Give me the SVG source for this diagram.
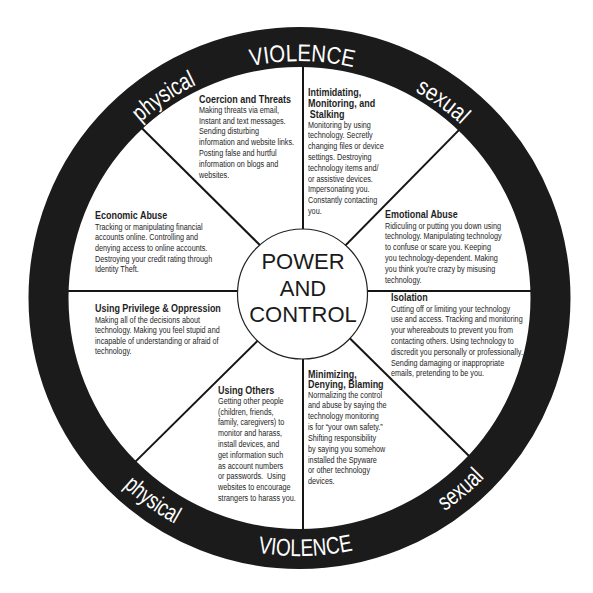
<svg xmlns="http://www.w3.org/2000/svg" width="593" height="593" viewBox="0 0 593 593">
<style>
.spoke{stroke:#151515;stroke-width:2;fill:none}
.t{font-family:"Liberation Sans",Arial,sans-serif;font-size:10.3px;font-weight:bold;fill:#1e1e1e}
.b{font-family:"Liberation Sans",Arial,sans-serif;font-size:9.3px;fill:#1e1e1e}
.ring{font-family:"Liberation Sans",Arial,sans-serif;font-size:24px;fill:#fff}
.ctr{font-family:"Liberation Sans",Arial,sans-serif;font-size:22px;fill:#1a1a1a;text-anchor:middle}
</style>
<defs>
<path id="topArc" d="M 62.5 298 A 237 237 0 0 1 536.5 298"/>
<path id="botArc" d="M 41.5 298 A 258 258 0 0 0 557.5 298"/>
</defs>
<rect width="593" height="593" fill="#fff"/>
<g id="connectors">
<path class="spoke" d="M303 60 V240"/>
<path class="spoke" d="M303 350 V540"/>
<path class="spoke" d="M60 291 H245"/>
<path class="spoke" d="M355 291 H540"/>
<path class="spoke" d="M120 106.5 L280 265"/>
<path class="spoke" d="M480 108.6 L325 266.2"/>
<path class="spoke" d="M330 318.7 L485 471.8"/>
<path class="spoke" d="M280 318.6 L120 476.9"/>
</g>
<g id="ring">
<circle cx="299.5" cy="298" r="251" fill="none" stroke="#1b1b1b" stroke-width="40"/>
<text class="ring" text-anchor="middle"><textPath href="#topArc" startOffset="374.8" textLength="103" lengthAdjust="spacingAndGlyphs">VIOLENCE</textPath></text>
<text class="ring" text-anchor="middle"><textPath href="#topArc" startOffset="231.6" textLength="68" lengthAdjust="spacingAndGlyphs">physical</textPath></text>
<text class="ring" text-anchor="middle"><textPath href="#topArc" startOffset="521.2" textLength="57" lengthAdjust="spacingAndGlyphs">sexual</textPath></text>
<text class="ring" text-anchor="middle"><textPath href="#botArc" startOffset="411.1" textLength="96" lengthAdjust="spacingAndGlyphs">VIOLENCE</textPath></text>
<text class="ring" text-anchor="middle"><textPath href="#botArc" startOffset="243.2" textLength="64" lengthAdjust="spacingAndGlyphs">physical</textPath></text>
<text class="ring" text-anchor="middle"><textPath href="#botArc" startOffset="585.4" textLength="52" lengthAdjust="spacingAndGlyphs">sexual</textPath></text>
</g>
<g id="center">
<circle cx="302.5" cy="294" r="65" fill="#fff" stroke="#222" stroke-width="1.2"/>
<text class="ctr" x="303" y="269">POWER</text>
<text class="ctr" x="303" y="296">AND</text>
<text class="ctr" x="303" y="322">CONTROL</text>
</g>
<g id="coercion">
<text class="t" transform="translate(199,102.6) scale(0.87,1)">Coercion and Threats</text>
<text class="b" transform="translate(199,112.8) scale(0.78,1)"><tspan x="0" y="0">Making threats via email,</tspan><tspan x="0" dy="10.8">Instant and text messages.</tspan><tspan x="0" dy="10.8">Sending disturbing</tspan><tspan x="0" dy="10.8">information and website links.</tspan><tspan x="0" dy="10.8">Posting false and hurtful</tspan><tspan x="0" dy="10.8">information on blogs and</tspan><tspan x="0" dy="10.8">websites.</tspan></text>
</g>
<g id="intimidating">
<text class="t" transform="translate(308,96) scale(0.87,1)"><tspan x="0" y="0">Intimidating,</tspan><tspan x="0" dy="11">Monitoring, and</tspan><tspan x="2" dy="10.6">Stalking</tspan></text>
<text class="b" transform="translate(308,127.6) scale(0.78,1)"><tspan x="0" y="0">Monitoring by using</tspan><tspan x="0" dy="10.8">technology. Secretly</tspan><tspan x="0" dy="10.8">changing files or device</tspan><tspan x="0" dy="10.8">settings. Destroying</tspan><tspan x="0" dy="10.8">technology items and/</tspan><tspan x="0" dy="10.8">or assistive devices.</tspan><tspan x="0" dy="10.8">Impersonating you.</tspan><tspan x="0" dy="10.8">Constantly contacting</tspan><tspan x="0" dy="10.8">you.</tspan></text>
</g>
<g id="economic">
<text class="t" transform="translate(95,219.3) scale(0.87,1)">Economic Abuse</text>
<text class="b" transform="translate(95,229.6) scale(0.78,1)"><tspan x="0" y="0">Tracking or manipulating financial</tspan><tspan x="0" dy="10.7">accounts online. Controlling and</tspan><tspan x="0" dy="10.7">denying access to online accounts.</tspan><tspan x="0" dy="10.7">Destroying your credit rating through</tspan><tspan x="0" dy="10.7">Identity Theft.</tspan></text>
</g>
<g id="emotional">
<text class="t" transform="translate(385,218.3) scale(0.87,1)">Emotional Abuse</text>
<text class="b" transform="translate(385,228.6) scale(0.78,1)"><tspan x="0" y="0">Ridiculing or putting you down using</tspan><tspan x="0" dy="10.8">technology. Manipulating technology</tspan><tspan x="0" dy="10.8">to confuse or scare you. Keeping</tspan><tspan x="0" dy="10.8">you technology-dependent. Making</tspan><tspan x="0" dy="10.8">you think you’re crazy by misusing</tspan><tspan x="0" dy="10.8">technology.</tspan></text>
</g>
<g id="privilege">
<text class="t" transform="translate(95,312.3) scale(0.87,1)">Using Privilege &amp; Oppression</text>
<text class="b" transform="translate(95,322.6) scale(0.78,1)"><tspan x="0" y="0">Making all of the decisions about</tspan><tspan x="0" dy="10.6">technology. Making you feel stupid and</tspan><tspan x="0" dy="10.6">incapable of understanding or afraid of</tspan><tspan x="0" dy="10.6">technology.</tspan></text>
</g>
<g id="isolation">
<text class="t" transform="translate(391,301.3) scale(0.87,1)">Isolation</text>
<text class="b" transform="translate(391,311.6) scale(0.78,1)"><tspan x="0" y="0">Cutting off or limiting your technology</tspan><tspan x="0" dy="10.8">use and access. Tracking and monitoring</tspan><tspan x="0" dy="10.8">your whereabouts to prevent you from</tspan><tspan x="0" dy="10.8">contacting others. Using technology to</tspan><tspan x="0" dy="10.8">discredit you personally or professionally.</tspan><tspan x="0" dy="10.8">Sending damaging or inappropriate</tspan><tspan x="0" dy="10.8">emails, pretending to be you.</tspan></text>
</g>
<g id="minimizing">
<text class="t" transform="translate(308,377.6) scale(0.87,1)"><tspan x="0" y="0">Minimizing,</tspan><tspan x="0" dy="10.2">Denying, Blaming</tspan></text>
<text class="b" transform="translate(308,397.6) scale(0.78,1)"><tspan x="0" y="0">Normalizing the control</tspan><tspan x="0" dy="10.84">and abuse by saying the</tspan><tspan x="0" dy="10.84">technology monitoring</tspan><tspan x="0" dy="10.84">is for “your own safety.”</tspan><tspan x="0" dy="10.84">Shifting responsibility</tspan><tspan x="0" dy="10.84">by saying you somehow</tspan><tspan x="0" dy="10.84">installed the Spyware</tspan><tspan x="0" dy="10.84">or other technology</tspan><tspan x="0" dy="10.84">devices.</tspan></text>
</g>
<g id="others">
<text class="t" transform="translate(218,394.3) scale(0.87,1)">Using Others</text>
<text class="b" transform="translate(218,403.9) scale(0.78,1)"><tspan x="0" y="0">Getting other people</tspan><tspan x="0" dy="10.78">(children, friends,</tspan><tspan x="0" dy="10.78">family, caregivers) to</tspan><tspan x="0" dy="10.78">monitor and harass,</tspan><tspan x="0" dy="10.78">install devices, and</tspan><tspan x="0" dy="10.78">get information such</tspan><tspan x="0" dy="10.78">as account numbers</tspan><tspan x="0" dy="10.78">or passwords.&#160; Using</tspan><tspan x="0" dy="10.78">websites to encourage</tspan><tspan x="0" dy="10.78">strangers to harass you.</tspan></text>
</g>
</svg>
